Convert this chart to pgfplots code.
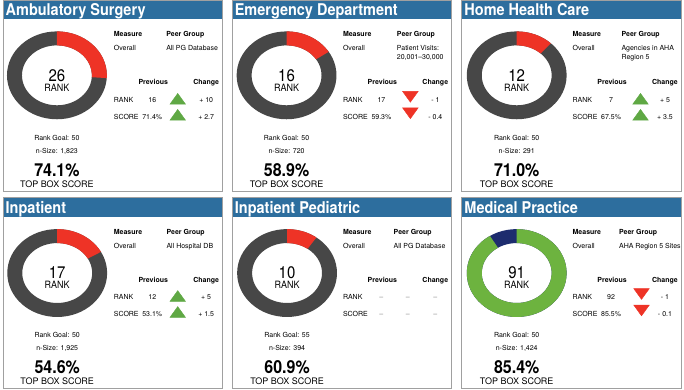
\documentclass[border=0pt]{standalone}
\usepackage{fontspec}
\setmainfont{TeX Gyre Heros}
\usepackage{graphicx}
\usepackage{pgfplots}
\pgfplotsset{compat=1.18}
\usetikzlibrary{calc}

\definecolor{barblue}{HTML}{2D6E9E}
\definecolor{ringred}{HTML}{EE3326}
\definecolor{ringgrey}{HTML}{474747}
\definecolor{upgreen}{HTML}{5FA844}
\definecolor{ringgreen}{HTML}{6DB33F}
\definecolor{navy}{HTML}{1D2C6E}
\definecolor{framegrey}{HTML}{A0A0A0}
\definecolor{txt}{HTML}{1E1E1E}

\newcommand{\fs}[1]{\fontsize{#1}{#1}\selectfont}
\newcommand{\tall}[1]{\scalebox{1}[1.12]{#1}}

% ox oy title
\newcommand{\panelframe}[3]{%
  \fill[barblue] (axis cs:#1,#2) rectangle (axis cs:#1+220,#2+19);
  \draw[framegrey, line width=0.9pt] (axis cs:#1,#2) rectangle (axis cs:#1+220,#2+191);
  \node[anchor=base west, white, font=\bfseries\fs{14.5}, inner sep=0] at (axis cs:#1+2.5,#2+15.5) {\tall{#3}};
}
% cx cy rank colA colB
\newcommand{\donut}[5]{%
  \fill[#5, even odd rule] (axis cs:#1,#2) ellipse [x radius=50pt, y radius=44pt]
        (axis cs:#1,#2) ellipse [x radius=35pt, y radius=30pt];
  \fill[#4] (axis cs:#1,#2) ++(90:50pt and 44pt)
     arc[start angle=90, delta angle={-3.6*#3}, x radius=50pt, y radius=44pt]
     -- ($(axis cs:#1,#2)+({90-3.6*#3}:35pt and 30pt)$)
     arc[start angle={90-3.6*#3}, delta angle={3.6*#3}, x radius=35pt, y radius=30pt] -- cycle;
}
% ox oy peerx peer1 peer2
\newcommand{\info}[5]{%
  \node[anchor=base west, font=\bfseries\fs{7}] at (axis cs:#1+107.5,#2+36.5) {Measure};
  \node[anchor=base west, font=\bfseries\fs{7}] at (axis cs:#1+#3,#2+36.5) {Peer Group};
  \node[anchor=base west, font=\fs{7}] at (axis cs:#1+107.5,#2+50.5) {Overall};
  \node[anchor=base west, font=\fs{7}] at (axis cs:#1+#3,#2+50.5) {#4};
  \node[anchor=base west, font=\fs{7}] at (axis cs:#1+#3,#2+59.5) {#5};
  \node[anchor=base, font=\bfseries\fs{7}] at (axis cs:#1+150.5,#2+84.5) {Previous};
  \node[anchor=base, font=\bfseries\fs{7}] at (axis cs:#1+203.5,#2+84.5) {Change};
  \node[anchor=base west, font=\fs{7}] at (axis cs:#1+107.5,#2+102) {RANK};
  \node[anchor=base west, font=\fs{7}] at (axis cs:#1+107.5,#2+119.5) {SCORE};
}
% ox oy prevrank chgrank prevscore chgscore
\newcommand{\rows}[6]{%
  \node[anchor=base, font=\fs{7}] at (axis cs:#1+149.5,#2+102) {#3};
  \node[anchor=base, font=\fs{7}] at (axis cs:#1+203.5,#2+102) {#4};
  \node[anchor=base, font=\fs{7}] at (axis cs:#1+149.5,#2+119.5) {#5};
  \node[anchor=base, font=\fs{7}] at (axis cs:#1+203.5,#2+119.5) {#6};
}
% ox oy cx goal nsize score rank
\newcommand{\bottom}[7]{%
  \node[anchor=base, font=\fs{7}] at (axis cs:#1+#3,#2+140) {Rank Goal: #4};
  \node[anchor=base, font=\fs{7}] at (axis cs:#1+#3,#2+153) {n-Size: #5};
  \node[anchor=base, font=\bfseries\fs{16}] at (axis cs:#1+#3,#2+176.5) {\tall{#6}};
  \node[anchor=base, font=\fs{9}] at (axis cs:#1+#3,#2+187.3) {TOP BOX SCORE};
  \node[anchor=base, font=\fs{15}] at (axis cs:#1+#3,#2+81) {\tall{#7}};
  \node[anchor=base, font=\fs{9}] at (axis cs:#1+#3,#2+91.3) {\tall{RANK}};
}

\begin{document}
\begin{tikzpicture}
\begin{axis}[
  width=684pt, height=390pt, scale only axis,
  xmin=0, xmax=684, ymin=0, ymax=390, y dir=reverse,
  hide axis, clip=false,
  every node/.append style={inner sep=0pt, text=txt},
]
\path (axis cs:0,0) rectangle (axis cs:684,390);

% ---------- row 1 ----------
\panelframe{3}{0}{Ambulatory Surgery}
\donut{57}{75}{26}{ringred}{ringgrey}
\info{3}{0}{160}{All PG Database}{}
\rows{3}{0}{16}{+ 10}{71.4\%}{+ 2.7}
\bottom{3}{0}{54}{50}{1,823}{74.1\%}{26}

\panelframe{232.5}{0}{Emergency Department}
\donut{287}{75}{16}{ringred}{ringgrey}
\info{232.5}{0}{161.5}{Patient Visits:}{20,001–30,000}
\rows{232.5}{0}{17}{- 1}{59.3\%}{- 0.4}
\bottom{232.5}{0}{54.5}{50}{720}{58.9\%}{16}

\panelframe{462.5}{0}{Home Health Care}
\donut{517.5}{75}{12}{ringred}{ringgrey}
\info{462.5}{0}{156.5}{Agencies in AHA}{Region 5}
\rows{462.5}{0}{7}{+ 5}{67.5\%}{+ 3.5}
\bottom{462.5}{0}{55}{50}{291}{71.0\%}{12}

% ---------- row 2 ----------
\panelframe{3}{197.5}{Inpatient}
\donut{57.3}{273}{17}{ringred}{ringgrey}
\info{3}{197.5}{160.3}{All Hospital DB}{}
\rows{3}{197.5}{12}{+ 5}{53.1\%}{+ 1.5}
\bottom{3}{197.5}{54.3}{50}{1,925}{54.6\%}{17}

\panelframe{232.5}{197.5}{Inpatient Pediatric}
\donut{287.5}{273}{10}{ringred}{ringgrey}
\info{232.5}{197.5}{158.3}{All PG Database}{}
\rows{232.5}{197.5}{\textcolor{gray}{–}}{\textcolor{gray}{–}}{\textcolor{gray}{–}}{\textcolor{gray}{–}}
\node[anchor=base, font=\fs{7}, text=gray] at (axis cs:232.5+176,197.5+102) {–};
\node[anchor=base, font=\fs{7}, text=gray] at (axis cs:232.5+176,197.5+119.5) {–};
\bottom{232.5}{197.5}{55}{55}{394}{60.9\%}{10}

\panelframe{462.5}{197.5}{Medical Practice}
\donut{517.5}{273}{91}{ringgreen}{navy}
\info{462.5}{197.5}{154}{AHA Region 5 Sites}{}
\rows{462.5}{197.5}{92}{- 1}{85.5\%}{- 0.1}
\bottom{462.5}{197.5}{55}{50}{1,424}{85.4\%}{91}

% ---------- change indicators ----------
\addplot[only marks, mark=triangle*, mark size=9pt, color=upgreen,
  mark options={fill=upgreen, draw=upgreen, yscale=0.8}]
  coordinates {(178,100.3) (178,116.3) (641.5,100.3) (641.5,116.3) (178,297.8) (178,313.8)};
\addplot[only marks, mark=triangle*, mark size=9pt, color=ringred,
  mark options={fill=ringred, draw=ringred, yscale=0.8, rotate=180}]
  coordinates {(411,94.7) (411,111.2) (642.5,292.2) (642.5,308.7)};
\end{axis}
\end{tikzpicture}
\end{document}
